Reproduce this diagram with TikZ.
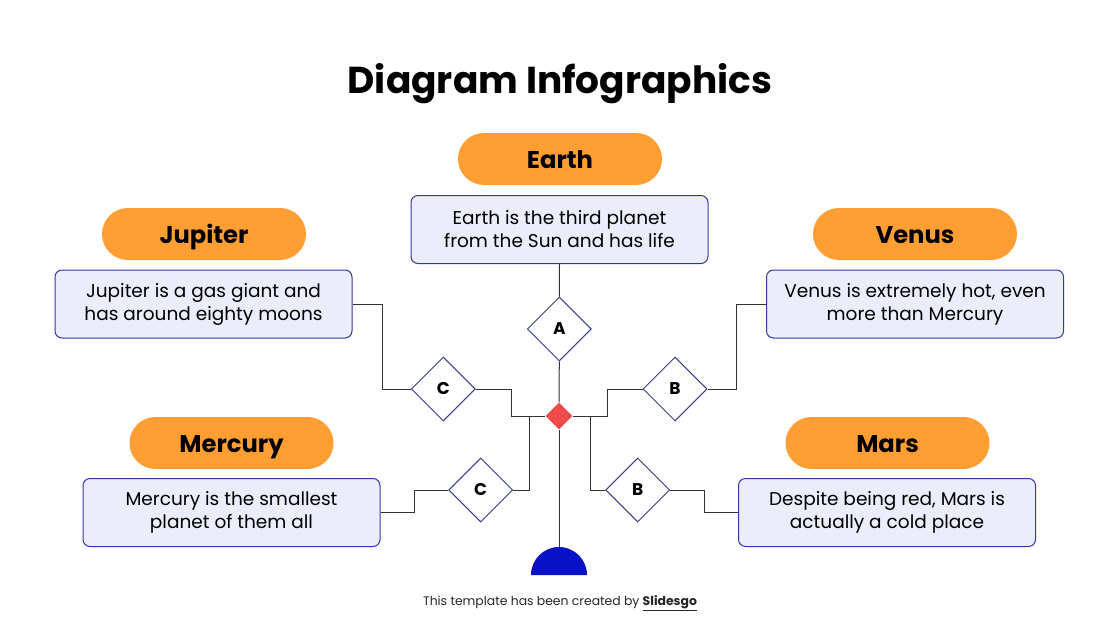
\documentclass[tikz,border=0pt]{standalone}
\usepackage{fontspec}
\setmainfont{Poppins}
\usetikzlibrary{shapes.geometric}
\definecolor{pillorange}{HTML}{FF9F33}
\definecolor{boxfill}{HTML}{ECEDFB}
\definecolor{boxline}{HTML}{3535A5}
\definecolor{dline}{HTML}{3A3A8F}
\definecolor{wire}{HTML}{333333}
\definecolor{hubred}{HTML}{F04B4B}
\definecolor{domeblue}{HTML}{0A12C7}
\tikzset{
  pill/.style={fill=pillorange, rounded corners=26pt, minimum width=204pt, minimum height=52pt, inner sep=0pt,
    text height=18pt, text depth=0pt, font=\fontsize{24.2}{28}\selectfont\bfseries},
  infobox/.style={fill=boxfill, draw=boxline, line width=1pt, rounded corners=7pt, minimum width=297pt,
    minimum height=68pt, inner sep=0pt, align=center, font=\fontsize{18.5}{23}\selectfont},
  dia/.style={diamond, draw=dline, fill=white, line width=1pt, minimum width=64pt, minimum height=64pt,
    inner sep=0pt, font=\fontsize{17}{20}\selectfont\bfseries},
  wirestyle/.style={draw=wire, line width=1pt},
}
\begin{document}
\begin{tikzpicture}[x=1pt,y=-1pt]
\useasboundingbox (0,0) rectangle (1119,629);
\fill[white] (0,0) rectangle (1119,629);
\node[font=\fontsize{37.5}{42}\selectfont\bfseries] (title) at (560,84) {Diagram Infographics};

\node[pill] (ep) at (560,159) {Earth};
\node[infobox] (eb) at (559.5,229.5) {Earth is the third planet\\from the Sun and has life};
\node[pill] (jp) at (204,234) {Jupiter};
\node[infobox] (jb) at (203.5,304) {Jupiter is a gas giant and\\has around eighty moons};
\node[pill] (vp) at (915,234) {Venus};
\node[infobox] (vb) at (915,304) {Venus is extremely hot, even\\more than Mercury};
\node[pill] (mp) at (231.5,443) {Mercury};
\node[infobox] (mb) at (231.5,512.5) {Mercury is the smallest\\planet of them all};
\node[pill] (rp) at (887.5,443) {Mars};
\node[infobox] (rb) at (887,512.5) {Despite being red, Mars is\\actually a cold place};

\node[dia] (a) at (559.3,329) {A};
\node[dia] (cu) at (443.3,389) {C};
\node[dia] (bu) at (675,389) {B};
\node[dia] (cl) at (480.7,490) {C};
\node[dia] (bl) at (637.7,490) {B};
\node[diamond, fill=hubred, minimum width=27pt, minimum height=27pt, inner sep=0pt] (hub) at (559,416) {};

\fill[domeblue] (531,575) arc[start angle=180, end angle=360, radius=28] -- cycle;
\coordinate (dome) at (559,547);
\coordinate (jl) at (529,416);
\coordinate (jr) at (590,416);

\draw[wirestyle] (eb.south) -- (a.north);
\draw[wirestyle] (a.south) -- (hub.north);
\draw[wirestyle] (hub.south) -- (dome);
\draw[wirestyle] (jb.east) -- ++(30,0) |- (cu.west);
\draw[wirestyle] (cu.east) -- ++(35.5,0) |- (hub.west);
\draw[wirestyle] (vb.west) -- ++(-30,0) |- (bu.east);
\draw[wirestyle] (bu.west) -- ++(-35.5,0) |- (hub.east);
\draw[wirestyle] (cl.east) -| (jl);
\draw[wirestyle] (bl.west) -| (jr);
\draw[wirestyle] (mb.east) -- ++(34,0) |- (cl.west);
\draw[wirestyle] (bl.east) -- ++(34.6,0) |- (rb.west);

\node[font=\fontsize{12.4}{14}\selectfont, text=black!85] (foot) at (560,603) {This template has been created by \textbf{\underline{Slidesgo}}};
\end{tikzpicture}
\end{document}
